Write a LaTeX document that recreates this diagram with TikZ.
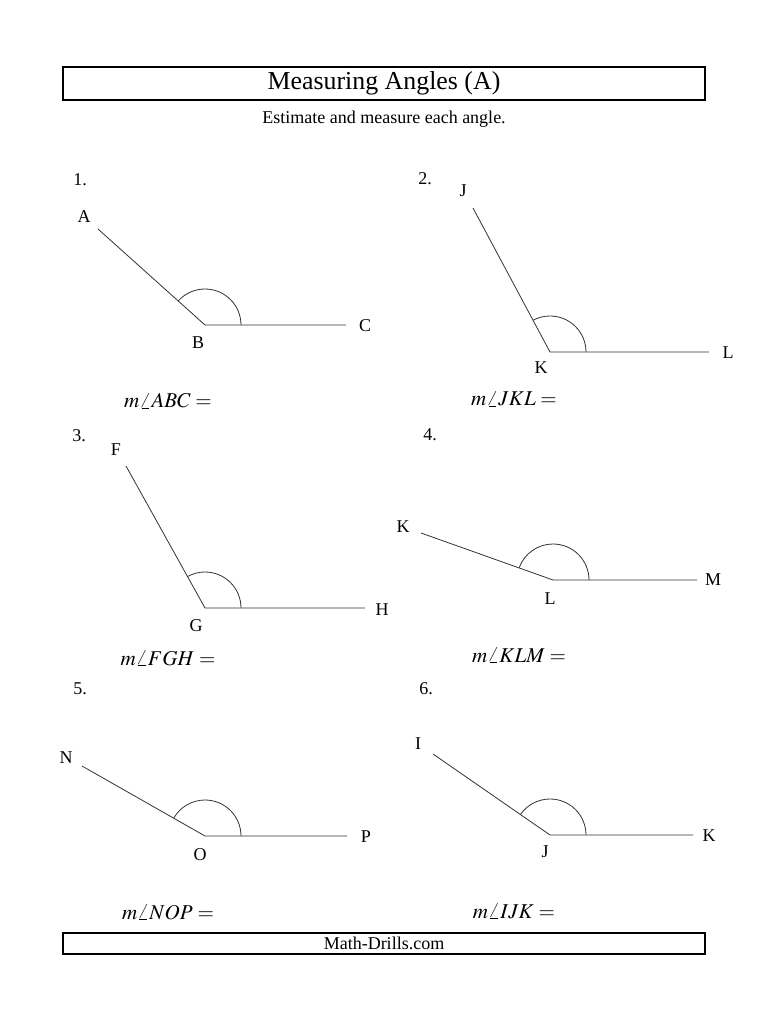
\documentclass[tikz,border=0pt]{standalone}
\usepackage{mathptmx}
\usepackage[no-math]{fontspec}
\setmainfont{Liberation Serif}
\usetikzlibrary{calc,positioning}

\begin{document}
\begin{tikzpicture}[
	%	style def
    x=0.75pt, y=-0.75pt,
    ray line/.style={line width=0.6pt, color=black!80},
    frame box/.style={draw, line width=0.9pt},
    pt label/.style={font=\fontsize{13.5}{16}\selectfont, inner sep=0pt},
    answer/.style={font=\fontsize{15.8}{18}\selectfont, inner sep=0pt},
    every node/.style={color=black}
    ]
    \fill[white] (0,0) rectangle (768,1024);
    \useasboundingbox (0,0) rectangle (768,1024);

	% header and footer
    \draw[frame box] (63,67) rectangle (705,100);
    \node[inner sep=0pt, font=\fontsize{19.4}{22}\selectfont] (title) at (384,83) {Measuring Angles (A)};
    \node[pt label] (intro) at (384,119) {Estimate and measure each angle.};
    \draw[frame box] (63,933) rectangle (705,954);
    \node[pt label] (site) at (384,943) {Math-Drills.com};

	% 1. angle ABC
    \node[pt label] (num1) at (80,180) {1.};
    \draw[ray line] (98,229) coordinate (A1) -- (205,325) coordinate (B1) -- (346,325) coordinate (C1);
    \draw[ray line] ($(B1)+(36,0)$) arc[start angle=0, end angle=-138, radius=36];
    \node[pt label] (lA1) at (84,217) {A};
    \node[pt label] (lB1) at (198,343) {B};
    \node[pt label] (lC1) at (365,326) {C};
    \node[answer] (ans1) at (168,401) {$m\angle ABC =$};

	% 2. angle JKL
    \node[pt label] (num2) at (425,179) {2.};
    \draw[ray line] (473,208) coordinate (J2) -- (550,352) coordinate (K2) -- (709,352) coordinate (L2);
    \draw[ray line] ($(K2)+(36,0)$) arc[start angle=0, end angle=-118, radius=36];
    \node[pt label] (lJ2) at (463,191) {J};
    \node[pt label] (lK2) at (541,368) {K};
    \node[pt label] (lL2) at (728,353) {L};
    \node[answer] (ans2) at (514,399) {$m\angle JKL =$};

	% 3. angle FGH
    \node[pt label] (num3) at (79,436) {3.};
    \draw[ray line] (126,466) coordinate (F3) -- (205,608) coordinate (G3) -- (365,608) coordinate (H3);
    \draw[ray line] ($(G3)+(36,0)$) arc[start angle=0, end angle=-119, radius=36];
    \node[pt label] (lF3) at (116,450) {F};
    \node[pt label] (lG3) at (196,626) {G};
    \node[pt label] (lH3) at (382,610) {H};
    \node[answer] (ans3) at (168,658) {$m\angle FGH =$};

	% 4. angle KLM
    \node[pt label] (num4) at (430,435) {4.};
    \draw[ray line] (421,533) coordinate (K4) -- (553,580) coordinate (L4) -- (697,580) coordinate (M4);
    \draw[ray line] ($(L4)+(36,0)$) arc[start angle=0, end angle=-160, radius=36];
    \node[pt label] (lK4) at (403,527) {K};
    \node[pt label] (lL4) at (550,599) {L};
    \node[pt label] (lM4) at (713,580) {M};
    \node[answer] (ans4) at (519,655) {$m\angle KLM =$};

	% 5. angle NOP
    \node[pt label] (num5) at (80,689) {5.};
    \draw[ray line] (82,766) coordinate (N5) -- (205,836) coordinate (O5) -- (347,836) coordinate (P5);
    \draw[ray line] ($(O5)+(36,0)$) arc[start angle=0, end angle=-150, radius=36];
    \node[pt label] (lN5) at (66,758) {N};
    \node[pt label] (lO5) at (200,855) {O};
    \node[pt label] (lP5) at (366,837) {P};
    \node[answer] (ans5) at (168,912) {$m\angle NOP =$};

	% 6. angle IJK
    \node[pt label] (num6) at (426,689) {6.};
    \draw[ray line] (433,754) coordinate (I6) -- (550,835) coordinate (J6) -- (693,835) coordinate (K6);
    \draw[ray line] ($(J6)+(36,0)$) arc[start angle=0, end angle=-145, radius=36];
    \node[pt label] (lI6) at (418,744) {I};
    \node[pt label] (lJ6) at (545,852) {J};
    \node[pt label] (lK6) at (709,836) {K};
    \node[answer] (ans6) at (514,911) {$m\angle IJK =$};
\end{tikzpicture}
\end{document}
